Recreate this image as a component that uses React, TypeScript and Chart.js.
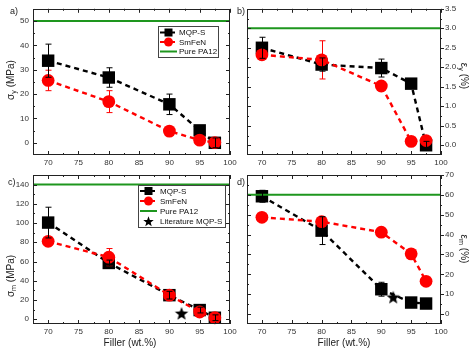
import React, { useEffect, useRef } from 'react';
import { Chart, registerables } from 'chart.js';

Chart.register(...registerables);

// ---------- data ----------
const FILLER = [70, 80, 90, 95, 97.5];
const LIT_FILLER = [92];
const X_MIN = 67.5;
const X_MAX = 100;
const X_TICKS = [70, 75, 80, 85, 90, 95, 100];
const LEGEND_LABELS = ['MQP-S', 'SmFeN', 'Pure PA12', 'Literature MQP-S'];
const X_TITLE = 'Filler (wt.%)';

// a) yield strength σy (MPa)
const SY_MQPS = [33.7, 26.8, 15.8, 5.1, 0.0];
const SY_MQPS_ERR = [6.8, 4.0, 4.2, 1.0, 2.0];
const SY_SMFEN = [25.6, 16.9, 4.8, 1.1, 0.1];
const SY_SMFEN_ERR = [4.2, 4.5, 0.6, 0.6, 1.5];
const SY_PA12 = 50;
const SY_TICKS = [0, 10, 20, 30, 40, 50];

// b) yield strain εy (%)
const EY_MQPS = [2.5, 2.07, 1.98, 1.58, 0.0];
const EY_MQPS_ERR = [0.27, 0.17, 0.23, 0.1, 0.1];
const EY_SMFEN = [2.32, 2.19, 1.52, 0.1, 0.12];
const EY_SMFEN_ERR = [0.07, 0.49, 0.05, 0.03, 0.05];
const EY_PA12 = 3.0;
const EY_TICKS = [0, 0.5, 1, 1.5, 2, 2.5, 3, 3.5];

// c) max strength σm (MPa)
const SM_MQPS = [100.5, 58.5, 25, 9.5, 1.5];
const SM_MQPS_ERR = [16, 3, 4, 3, 3];
const SM_SMFEN = [81, 64.5, 25, 7.5, 1.5];
const SM_SMFEN_ERR = [5, 9, 4, 4, 4];
const SM_LIT = [6.5];
const SM_PA12 = 140;
const SM_TICKS = [0, 20, 40, 60, 80, 100, 120, 140];

// d) max strain εm (%)
const EM_MQPS = [59.3, 42, 12.5, 5.8, 5.3];
const EM_MQPS_ERR = [3, 7, 3.5, 0.5, 0.5];
const EM_SMFEN = [48.7, 46.5, 41.2, 30.3, 16.5];
const EM_SMFEN_ERR = [0.8, 1, 1, 1, 1];
const EM_LIT = [8.7];
const EM_PA12 = 60;
const EM_TICKS = [0, 10, 20, 30, 40, 50, 60, 70];

// ---------- styling ----------
const W = 474;
const H = 350;
const FONT = '"Liberation Sans", Arial, Helvetica, sans-serif';
const BLACK = '#000000';
const RED = '#ff0000';
const GREEN = '#1e961e';
const AXIS = '#222222';

function makeStar(r: number, color: string) {
  const c = document.createElement('canvas');
  const s = Math.ceil(r * 2) + 2;
  c.width = s;
  c.height = s;
  const g = c.getContext('2d')!;
  g.fillStyle = color;
  g.beginPath();
  for (let i = 0; i < 10; i++) {
    const rad = i % 2 === 0 ? r : r * 0.42;
    const a = -Math.PI / 2 + (i * Math.PI) / 5;
    const px = s / 2 + rad * Math.cos(a);
    const py = s / 2 + 1 + rad * Math.sin(a);
    if (i === 0) g.moveTo(px, py);
    else g.lineTo(px, py);
  }
  g.closePath();
  g.fill();
  return c;
}

interface LegendCfg {
  box: [number, number, number, number];
  rows: number[];
  symX0: number;
  symX1: number;
  textX: number;
}

interface PanelCfg {
  label: string;
  labelPos: [number, number];
  area: { left: number; right: number; top: number; bottom: number };
  yMin: number;
  yMax: number;
  yTicks: number[];
  yDecimals: number;
  ySide: 'left' | 'right';
  yTitle: [string, string, string];
  yTitlePos: [number, number];
  xTitlePos?: [number, number];
  mqps: number[];
  mqpsErr: number[];
  smfen: number[];
  smfenErr: number[];
  pa12: number;
  lit?: number[];
  legend?: LegendCfg;
}

const PANELS: PanelCfg[] = [
  {
    label: 'a)', labelPos: [10, 12],
    area: { left: 33, right: 230, top: 5, bottom: 155 },
    yMin: -5, yMax: 55, yTicks: SY_TICKS, yDecimals: 0, ySide: 'left',
    yTitle: ['σ', 'y', ' (MPa)'], yTitlePos: [10, 80],
    mqps: SY_MQPS, mqpsErr: SY_MQPS_ERR, smfen: SY_SMFEN, smfenErr: SY_SMFEN_ERR, pa12: SY_PA12,
    legend: { box: [158, 26, 218, 57], rows: [32.5, 42, 51.5], symX0: 160, symX1: 177, textX: 179 },
  },
  {
    label: 'b)', labelPos: [237, 12],
    area: { left: 247, right: 441, top: 5, bottom: 155 },
    yMin: -0.25, yMax: 3.5, yTicks: EY_TICKS, yDecimals: 1, ySide: 'right',
    yTitle: ['ε', 'y', ' (%)'], yTitlePos: [465, 76],
    mqps: EY_MQPS, mqpsErr: EY_MQPS_ERR, smfen: EY_SMFEN, smfenErr: EY_SMFEN_ERR, pa12: EY_PA12,
  },
  {
    label: 'c)', labelPos: [8, 183],
    area: { left: 33, right: 230, top: 175, bottom: 324 },
    yMin: -5, yMax: 150, yTicks: SM_TICKS, yDecimals: 0, ySide: 'left',
    yTitle: ['σ', 'm', ' (MPa)'], yTitlePos: [10, 276], xTitlePos: [130, 343],
    mqps: SM_MQPS, mqpsErr: SM_MQPS_ERR, smfen: SM_SMFEN, smfenErr: SM_SMFEN_ERR, pa12: SM_PA12, lit: SM_LIT,
    legend: { box: [138, 185, 225, 227], rows: [191, 201, 211, 221], symX0: 140, symX1: 157, textX: 160 },
  },
  {
    label: 'd)', labelPos: [237, 183],
    area: { left: 247, right: 441, top: 175, bottom: 324 },
    yMin: -5, yMax: 70, yTicks: EM_TICKS, yDecimals: 0, ySide: 'right',
    yTitle: ['ε', 'm', ' (%)'], yTitlePos: [465, 249], xTitlePos: [344, 343],
    mqps: EM_MQPS, mqpsErr: EM_MQPS_ERR, smfen: EM_SMFEN, smfenErr: EM_SMFEN_ERR, pa12: EM_PA12, lit: EM_LIT,
  },
];

function minorTicks(ticks: number[], min: number, max: number) {
  const step = ticks[1] - ticks[0];
  const out: number[] = [];
  for (let v = ticks[0] - step / 2; v <= max + 1e-9; v += step) {
    if (v > min + 1e-9 && v < max - 1e-9) out.push(v);
  }
  return out;
}

function drawRichTitle(ctx: CanvasRenderingContext2D, parts: [string, string, string], cx: number, cy: number, rot: number, size: number) {
  ctx.save();
  ctx.translate(cx, cy);
  ctx.rotate(rot);
  const f = (s: number) => `${s}px ${FONT}`;
  ctx.font = f(size);
  const w1 = ctx.measureText(parts[0]).width;
  const w3 = ctx.measureText(parts[2]).width;
  ctx.font = f(size * 0.72);
  const w2 = ctx.measureText(parts[1]).width;
  let x = -(w1 + w2 + w3) / 2;
  const base = size * 0.36;
  ctx.fillStyle = AXIS;
  ctx.textBaseline = 'alphabetic';
  ctx.textAlign = 'left';
  ctx.font = f(size);
  ctx.fillText(parts[0], x, base);
  x += w1;
  ctx.font = f(size * 0.72);
  ctx.fillText(parts[1], x, base + size * 0.28);
  x += w2;
  ctx.font = f(size);
  ctx.fillText(parts[2], x, base);
  ctx.restore();
}

function drawMarker(ctx: CanvasRenderingContext2D, kind: string, x: number, y: number, color: string) {
  ctx.fillStyle = color;
  if (kind === 'rect') {
    ctx.fillRect(x - 4, y - 4, 8, 8);
  } else if (kind === 'circle') {
    ctx.beginPath();
    ctx.arc(x, y, 4.5, 0, Math.PI * 2);
    ctx.fill();
  } else if (kind === 'star') {
    ctx.beginPath();
    for (let i = 0; i < 10; i++) {
      const rad = i % 2 === 0 ? 5.5 : 5.5 * 0.42;
      const a = -Math.PI / 2 + (i * Math.PI) / 5;
      const px = x + rad * Math.cos(a);
      const py = y + 0.8 + rad * Math.sin(a);
      if (i === 0) ctx.moveTo(px, py);
      else ctx.lineTo(px, py);
    }
    ctx.closePath();
    ctx.fill();
  }
}

function makeDecor(cfg: PanelCfg) {
  return {
    id: 'decor',
    afterDatasetsDraw(chart: any) {
      const ctx: CanvasRenderingContext2D = chart.ctx;
      const ys = chart.scales.y;
      chart.data.datasets.forEach((ds: any, di: number) => {
        if (!ds.errors) return;
        const meta = chart.getDatasetMeta(di);
        ctx.save();
        ctx.strokeStyle = ds.errColor;
        ctx.lineWidth = 1;
        meta.data.forEach((pt: any, i: number) => {
          const e = ds.errors[i];
          if (!e) return;
          const v = ds.data[i].y;
          const yT = ys.getPixelForValue(v + e);
          const yB = ys.getPixelForValue(v - e);
          const x = Math.round(pt.x) + 0.5;
          ctx.beginPath();
          ctx.moveTo(x, yT);
          ctx.lineTo(x, yB);
          ctx.moveTo(x - 3, yT);
          ctx.lineTo(x + 3, yT);
          ctx.moveTo(x - 3, yB);
          ctx.lineTo(x + 3, yB);
          ctx.stroke();
        });
        ctx.restore();
      });
    },
    afterDraw(chart: any) {
      const ctx: CanvasRenderingContext2D = chart.ctx;
      const { left, right, top, bottom } = chart.chartArea;
      const xs = chart.scales.x;
      const ys = chart.scales.y;
      ctx.save();
      // frame
      ctx.strokeStyle = AXIS;
      ctx.lineWidth = 1;
      ctx.strokeRect(Math.round(left) + 0.5, Math.round(top) + 0.5, Math.round(right - left) - 1, Math.round(bottom - top) - 1);
      // ticks
      ctx.beginPath();
      const xTick = (v: number, len: number) => {
        const px = Math.round(xs.getPixelForValue(v)) + 0.5;
        ctx.moveTo(px, bottom);
        ctx.lineTo(px, bottom - len);
        ctx.moveTo(px, top);
        ctx.lineTo(px, top + len);
      };
      X_TICKS.forEach((v) => xTick(v, 4));
      minorTicks(X_TICKS, X_MIN, X_MAX).forEach((v) => xTick(v, 2));
      const yTick = (v: number, len: number) => {
        const py = Math.round(ys.getPixelForValue(v)) + 0.5;
        ctx.moveTo(left, py);
        ctx.lineTo(left + len, py);
        if (cfg.ySide === 'right') {
          ctx.moveTo(right, py);
          ctx.lineTo(right + len - 1, py);
        } else {
          ctx.moveTo(right, py);
          ctx.lineTo(right - len, py);
        }
      };
      cfg.yTicks.forEach((v) => yTick(v, 4));
      minorTicks(cfg.yTicks, cfg.yMin, cfg.yMax).forEach((v) => yTick(v, 2));
      ctx.stroke();
      ctx.restore();

      // panel label
      ctx.save();
      ctx.fillStyle = AXIS;
      ctx.font = `9px ${FONT}`;
      ctx.textBaseline = 'middle';
      ctx.textAlign = 'left';
      ctx.fillText(cfg.label, cfg.labelPos[0], cfg.labelPos[1]);
      ctx.restore();

      // axis titles
      drawRichTitle(ctx, cfg.yTitle, cfg.yTitlePos[0], cfg.yTitlePos[1], cfg.ySide === 'left' ? -Math.PI / 2 : Math.PI / 2, 10);
      if (cfg.xTitlePos) {
        ctx.save();
        ctx.fillStyle = AXIS;
        ctx.font = `10px ${FONT}`;
        ctx.textAlign = 'center';
        ctx.textBaseline = 'middle';
        ctx.fillText(X_TITLE, cfg.xTitlePos[0], cfg.xTitlePos[1]);
        ctx.restore();
      }

      // legend
      if (cfg.legend) {
        const L = cfg.legend;
        ctx.save();
        ctx.fillStyle = '#ffffff';
        ctx.fillRect(L.box[0], L.box[1], L.box[2] - L.box[0], L.box[3] - L.box[1]);
        ctx.strokeStyle = '#444444';
        ctx.lineWidth = 1;
        ctx.strokeRect(L.box[0] + 0.5, L.box[1] + 0.5, L.box[2] - L.box[0], L.box[3] - L.box[1]);
        const kinds = [
          { kind: 'rect', color: BLACK, line: 'dash' },
          { kind: 'circle', color: RED, line: 'dash' },
          { kind: 'none', color: GREEN, line: 'solid' },
          { kind: 'star', color: BLACK, line: 'none' },
        ];
        L.rows.forEach((ry, i) => {
          const k = kinds[i];
          const cx = (L.symX0 + L.symX1) / 2;
          if (k.line !== 'none') {
            ctx.beginPath();
            ctx.strokeStyle = k.color;
            ctx.lineWidth = 2;
            ctx.setLineDash(k.line === 'dash' ? [6, 3] : []);
            ctx.moveTo(L.symX0, ry);
            ctx.lineTo(L.symX1, ry);
            ctx.stroke();
            ctx.setLineDash([]);
          }
          if (k.kind !== 'none') drawMarker(ctx, k.kind, cx, ry, k.color);
          ctx.fillStyle = '#111111';
          ctx.font = `8px ${FONT}`;
          ctx.textBaseline = 'middle';
          ctx.textAlign = 'left';
          ctx.fillText(LEGEND_LABELS[i], L.textX, ry + 0.5);
        });
        ctx.restore();
      }
    },
  };
}

function buildConfig(cfg: PanelCfg): any {
  const pts = (vals: number[], xs: number[] = FILLER) => vals.map((y, i) => ({ x: xs[i], y }));
  const datasets: any[] = [
    {
      label: LEGEND_LABELS[2],
      data: [{ x: X_MIN, y: cfg.pa12 }, { x: X_MAX, y: cfg.pa12 }],
      showLine: true, borderColor: GREEN, borderWidth: 2, pointRadius: 0, order: 0,
    },
    {
      label: LEGEND_LABELS[1],
      data: pts(cfg.smfen),
      showLine: true, borderColor: RED, borderWidth: 2.4, borderDash: [5, 4],
      pointStyle: 'circle', pointRadius: 6.4, pointBackgroundColor: RED, pointBorderColor: RED, pointBorderWidth: 0,
      errors: cfg.smfenErr, errColor: RED, order: 2, clip: false,
    },
    {
      label: LEGEND_LABELS[0],
      data: pts(cfg.mqps),
      showLine: true, borderColor: BLACK, borderWidth: 2.4, borderDash: [5, 4],
      pointStyle: 'rect', pointRadius: 8.8, pointBackgroundColor: BLACK, pointBorderColor: BLACK, pointBorderWidth: 0,
      errors: cfg.mqpsErr, errColor: BLACK, order: 3, clip: false,
    },
  ];
  if (cfg.lit) {
    datasets.push({
      label: LEGEND_LABELS[3],
      data: pts(cfg.lit, LIT_FILLER),
      showLine: false, pointStyle: makeStar(7, BLACK), order: 1, clip: false,
    });
  }
  const a = cfg.area;
  const isLeft = cfg.ySide === 'left';
  const zeroPad = (s: any) => {
    s.paddingTop = 0;
    s.paddingBottom = 0;
    s.paddingLeft = 0;
    s.paddingRight = 0;
  };
  const tickFont = { family: FONT, size: 8 };
  return {
    type: 'scatter',
    data: { datasets },
    plugins: [makeDecor(cfg)],
    options: {
      animation: false,
      responsive: false,
      maintainAspectRatio: false,
      devicePixelRatio: 1,
      events: [],
      layout: {
        padding: isLeft
          ? { left: 0, top: a.top, right: W - a.right, bottom: 0 }
          : { left: a.left, top: a.top, right: 0, bottom: 0 },
      },
      plugins: { legend: { display: false }, tooltip: { enabled: false }, title: { display: false } },
      scales: {
        x: {
          type: 'linear',
          position: 'bottom',
          min: X_MIN,
          max: X_MAX,
          afterBuildTicks: (s: any) => {
            s.ticks = X_TICKS.map((v) => ({ value: v }));
          },
          afterFit: (s: any) => {
            s.height = H - a.bottom;
            zeroPad(s);
          },
          grid: { display: false, drawTicks: false },
          border: { display: false },
          ticks: {
            font: tickFont, color: '#333333', padding: 3, maxRotation: 0, autoSkip: false,
            callback: (v: any) => String(v),
          },
        },
        y: {
          type: 'linear',
          position: cfg.ySide,
          min: cfg.yMin,
          max: cfg.yMax,
          afterBuildTicks: (s: any) => {
            s.ticks = cfg.yTicks.map((v) => ({ value: v }));
          },
          afterFit: (s: any) => {
            s.width = isLeft ? a.left : W - a.right;
            zeroPad(s);
          },
          grid: { display: false, drawTicks: false },
          border: { display: false },
          ticks: {
            font: tickFont, color: '#333333', padding: isLeft ? 4 : 4, autoSkip: false,
            callback: (v: any) => Number(v).toFixed(cfg.yDecimals),
          },
        },
      },
    },
  };
}

function Panel({ cfg }: { cfg: PanelCfg }) {
  const ref = useRef<HTMLCanvasElement>(null);
  useEffect(() => {
    if (!ref.current) return;
    const chart = new Chart(ref.current, buildConfig(cfg));
    return () => chart.destroy();
  }, [cfg]);
  return (
    <canvas
      ref={ref}
      width={W}
      height={H}
      style={{ position: 'absolute', left: 0, top: 0, width: W, height: H }}
    />
  );
}

export default function App() {
  return (
    <div style={{ position: 'absolute', left: 0, top: 0, width: W, height: H, background: '#ffffff', overflow: 'hidden' }}>
      {PANELS.map((p, i) => (
        <Panel key={i} cfg={p} />
      ))}
    </div>
  );
}
